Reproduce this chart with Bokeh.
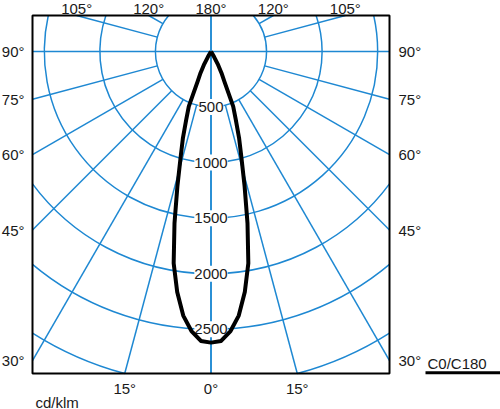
import numpy as np
from bokeh.plotting import figure
from bokeh.models import Range1d
from bokeh.core.properties import value
from bokeh.embed import file_html
from bokeh.resources import INLINE

# luminous intensity in the C0/C180 plane (cd/klm), symmetric about 0 deg
gamma = [0, 2, 4, 6, 8, 10, 12, 14, 16, 18, 20, 22, 24, 26, 28, 30, 32, 34]
intensity = [2620, 2607, 2522, 2390, 2186, 1935, 1580, 1250, 993, 817, 652, 533, 297, 215, 137, 55, 10, 0]

rings = [500, 1000, 1500, 2000, 2500, 3000]
ring_labels = ["500", "1000", "1500", "2000", "2500"]
spokes = [0, 15, 30, 45, 60, 75, 90, 105, 120, 135, 150, 165, 180]
side_ticks = [90, 75, 60, 45, 30]
top_ticks = [105, 120]
bottom_ticks = [15]

BLUE = "#1e88d2"
INK = "#1a1a1a"
FONT = value("Liberation Sans")
FS = "15px"

W, H = 500, 409
u = 9.0                      # cd/klm per screen pixel
FW, FH = 357, 358            # diagram box in pixels
xr = (-FW * u / 2, FW * u / 2)
yr = (36 * u - FH * u, 36 * u)
pad_l, pad_t = 32, 15
pad_r, pad_b = W - pad_l - FW, H - pad_t - FH

p = figure(width=W, height=H,
           x_range=Range1d(xr[0] - pad_l * u, xr[1] + pad_r * u),
           y_range=Range1d(yr[0] - pad_b * u, yr[1] + pad_t * u),
           min_border=0, x_axis_location=None, y_axis_location=None,
           toolbar_location=None, output_backend="svg")
p.grid.visible = False
p.outline_line_color = None
p.background_fill_color = "white"
p.border_fill_color = "white"


def inside(x, y):
    eps = 1e-6
    return xr[0] - eps <= x <= xr[1] + eps and yr[0] - eps <= y <= yr[1] + eps


# rings, cut into the arcs that fall inside the box
ax, ay, ar, a0, a1 = [], [], [], [], []
for r in rings:
    cuts = [0.0, 2 * np.pi]
    for c in xr:
        if abs(c) < r:
            th = np.arccos(c / r)
            cuts += [th, 2 * np.pi - th]
    for c in yr:
        if abs(c) < r:
            th = np.arcsin(c / r)
            cuts += [th % (2 * np.pi), (np.pi - th) % (2 * np.pi)]
    cuts = sorted(cuts)
    for s, e in zip(cuts[:-1], cuts[1:]):
        m = (s + e) / 2
        if e - s > 1e-9 and inside(r * np.cos(m), r * np.sin(m)):
            ax.append(0); ay.append(0); ar.append(r); a0.append(s); a1.append(e)
p.arc(ax, ay, radius=ar, start_angle=a0, end_angle=a1, line_color=BLUE, line_width=1.5)

# spokes on both sides, only 0/90/180 run through the inner ring
x0, y0, x1, y1 = [], [], [], []
for side in (-1, 1):
    for a in spokes:
        t = np.radians(a)
        dx, dy = side * np.sin(t), -np.cos(t)
        ts = []
        if dx > 1e-9: ts.append(xr[1] / dx)
        if dx < -1e-9: ts.append(xr[0] / dx)
        if dy > 1e-9: ts.append(yr[1] / dy)
        if dy < -1e-9: ts.append(yr[0] / dy)
        r0 = 0 if a % 90 == 0 else rings[0]
        r1 = min(ts)
        if r1 > r0:
            x0.append(r0 * dx); y0.append(r0 * dy)
            x1.append(r1 * dx); y1.append(r1 * dy)
p.segment(x0, y0, x1, y1, line_color=BLUE, line_width=1.5)

# ring values on the 0 deg axis
p.text(x=[0] * len(ring_labels), y=[-r for r in rings[:len(ring_labels)]], text=ring_labels,
       text_font=FONT, text_font_size=FS, text_color=INK,
       text_align="center", text_baseline="middle",
       background_fill_color="white", padding=(0, 3))

# intensity curve
g = np.radians(np.r_[-np.array(gamma[:0:-1]), gamma])
iv = np.r_[intensity[:0:-1], intensity]
p.line(iv * np.sin(g), -iv * np.cos(g), line_color="black", line_width=4,
       line_join="round")

# box
p.quad(left=[xr[0]], right=[xr[1]], bottom=[yr[0]], top=[yr[1]],
       fill_color=None, line_color="black", line_width=2)

tx, ty, tt, ta = [], [], [], []


def lab(x, y, text, align="center"):
    tx.append(x); ty.append(y); tt.append(text); ta.append(align)


for a in side_ticks:
    t = np.radians(a)
    y = xr[0] * np.cos(t) / np.sin(t)
    lab(xr[0] - 8 * u, y, f"{a}°", "right")
    lab(xr[1] + 9 * u, y, f"{a}°", "left")

lab(0, yr[1] + 7.3 * u, "180°")
for a in top_ticks:
    t = np.radians(a)
    x = np.sin(t) * yr[1] / np.cos(t)
    lab(x, yr[1] + 7.3 * u, f"{a}°")
    lab(-x, yr[1] + 7.3 * u, f"{a}°")
lab(0, yr[0] - 14.5 * u, "0°")
for a in bottom_ticks:
    x = yr[0] * np.tan(np.radians(a))
    lab(x, yr[0] - 14.5 * u, f"{a}°")
    lab(-x, yr[0] - 14.5 * u, f"{a}°")
lab(xr[0] + 3 * u, yr[0] - 28.5 * u, "cd/klm", "left")
lab(xr[1] + 38 * u, yr[0] + 10.5 * u, "C0/C180", "left")
p.text(x=tx, y=ty, text=tt, text_align=ta, text_baseline="middle",
       text_font=FONT, text_font_size=FS, text_color=INK)

# underline of the plane name
p.segment(x0=[xr[1] + 36 * u], y0=[yr[0] + 0.7 * u], x1=[xr[1] + 120 * u], y1=[yr[0] + 0.7 * u],
          line_color="black", line_width=3)

open("out.html", "w").write(file_html(p, INLINE))
